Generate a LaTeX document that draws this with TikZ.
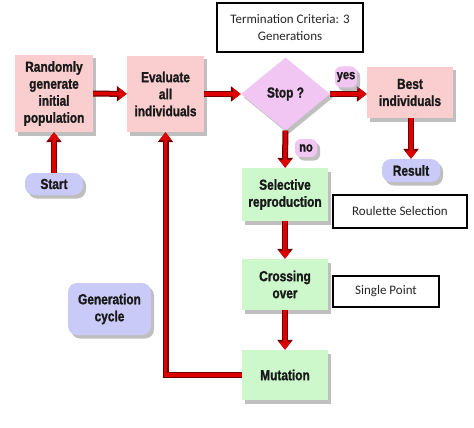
\documentclass[tikz,border=0pt]{standalone}
\usepackage{fontspec}
\setmainfont{Liberation Sans}[FakeStretch=0.82, BoldFeatures={FakeBold=1.2}]
\newfontfamily\notefont{Carlito}
\usetikzlibrary{arrows.meta,shapes.geometric,shadows}
\definecolor{boxpink}{RGB}{250,206,206}
\definecolor{boxviolet}{RGB}{242,198,242}
\definecolor{boxgreen}{RGB}{204,248,204}
\definecolor{boxlav}{RGB}{202,202,248}
\definecolor{arrred}{RGB}{220,0,0}
\definecolor{arrdark}{RGB}{110,0,0}
\tikzset{
  base/.style={font=\bfseries\fontsize{14.5}{17}\selectfont, align=center, inner sep=0pt,
    text=black!90,
    drop shadow={shadow xshift=3pt, shadow yshift=-3.5pt, fill=black!45, opacity=0.55}},
  pinkbox/.style={base, rectangle, fill=boxpink},
  greenbox/.style={base, rectangle, fill=boxgreen, minimum width=86pt},
  lavbox/.style={base, rectangle, rounded corners=9pt, fill=boxlav},
  tagbox/.style={base, rectangle, rounded corners=6pt, fill=boxviolet, font=\bfseries\fontsize{13.5}{15}\selectfont},
  notebox/.style={rectangle, draw=black, line width=1.8pt, fill=white, align=center,
    font=\notefont\fontsize{13}{16.5}\selectfont, text=black!85},
  redarrow/.style={draw=arrred, line width=3.5pt, -{Triangle[length=8pt,width=11.5pt]},
    preaction={draw=arrdark, line width=6pt, -{Triangle[length=10pt,width=15pt]}}}
}
\begin{document}
\begin{tikzpicture}[x=1pt,y=-1pt]
\fill[white] (0,0) rectangle (474,428);
\useasboundingbox (0,0) rectangle (474,428);

\node[pinkbox, minimum width=78pt, minimum height=77pt] (rand) at (54,93.5) {Randomly\\generate\\initial\\population};
\node[pinkbox, minimum width=77pt, minimum height=76pt] (eval) at (165.5,94) {Evaluate\\all\\individuals};
\node[lavbox, minimum width=58pt, minimum height=22pt] (start) at (54,184) {Start};
\node[base, diamond, fill=boxviolet, minimum width=89pt, minimum height=73pt] (stop) at (285.5,94) {Stop ?};
\node[pinkbox, minimum width=86pt, minimum height=51pt] (best) at (410,92.5) {Best\\individuals};
\node[lavbox, minimum width=58pt, minimum height=23pt] (result) at (411,170.5) {Result};
\node[greenbox, minimum height=53pt] (sel) at (285,194.5) {Selective\\reproduction};
\node[greenbox, minimum height=51pt] (cross) at (285,284.5) {Crossing\\over};
\node[greenbox, minimum height=50pt] (mut) at (285,375) {Mutation};
\node[lavbox, minimum width=83pt, minimum height=52pt] (gen) at (109.5,309) {Generation\\cycle};

\node[notebox, minimum width=146pt, minimum height=49pt] (term) at (290,27.5) {Termination Criteria: 3\\Generations};
\node[notebox, minimum width=134pt, minimum height=33pt] (roul) at (400,211.5) {Roulette Selection};
\node[notebox, minimum width=106pt, minimum height=31pt] (single) at (386,291.5) {Single Point};

\draw[redarrow] (start) -- (rand.south -| start);
\draw[redarrow] (rand) -- (eval);
\draw[redarrow] (eval) -- (stop);
\draw[redarrow] (stop.east) -- (stop.east -| best.west);
\draw[redarrow] (stop) -- (sel);
\draw[redarrow] (best.south -| result) -- (result);
\draw[redarrow] (sel) -- (cross);
\draw[redarrow] (cross) -- (mut);
\draw[redarrow] (mut.west) -| (eval.south);

\node[tagbox, minimum width=22pt, minimum height=21pt] (yes) at (346,77) {yes};
\node[tagbox, minimum width=22pt, minimum height=18pt] (no) at (306,148) {no};
\end{tikzpicture}
\end{document}
